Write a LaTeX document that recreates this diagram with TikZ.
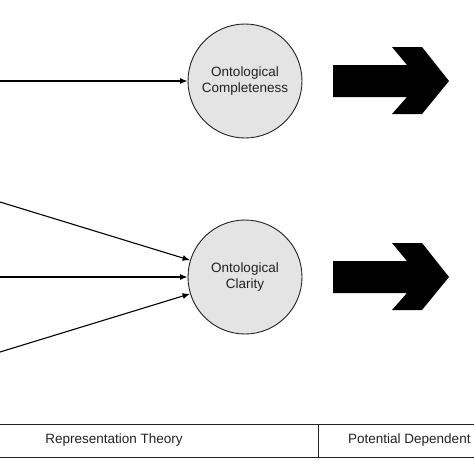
\documentclass[tikz,border=0pt]{standalone}
\usepackage{fontspec}
\setmainfont{Liberation Sans}
\usetikzlibrary{arrows.meta}
\definecolor{circfill}{HTML}{E4E4E4}
\definecolor{inkgray}{HTML}{222222}
\tikzset{
  concept/.style={circle, draw=inkgray, line width=0.9pt, fill=circfill, minimum size=114pt, inner sep=0pt, align=center, font=\fontsize{13.5}{16}\selectfont, text=inkgray},
  link/.style={draw=black, line width=1.1pt, -{Latex[length=7.5pt,width=6pt]}},
  blockarrow/.style={fill=black, draw=none},
  rule/.style={draw=inkgray, line width=1pt},
  celltext/.style={font=\fontsize{13.5}{16}\selectfont, text=inkgray, inner sep=0pt}
}
\begin{document}
\begin{tikzpicture}[x=1pt,y=-1pt]
\useasboundingbox (0,0) rectangle (474,474);
% circles
\node[concept] (comp) at (245,81) {Ontological\\Completeness};
\node[concept] (clar) at (245,277) {Ontological\\Clarity};
% free ends
\coordinate (s1) at (0,81);
\coordinate (s2) at (0,202);
\coordinate (s3) at (0,277);
\coordinate (s4) at (0,352);
\draw[link] (s1) -- (comp);
\draw[link] (s2) -- (clar);
\draw[link] (s3) -- (clar);
\draw[link] (s4) -- (clar);
% block arrows
\foreach \dy in {0,196}{
  \fill[blockarrow] (333,65+\dy) -- (407,65+\dy) -- (392,47+\dy) -- (422,47+\dy) -- (449,81+\dy) -- (422,114+\dy) -- (392,114+\dy) -- (407,97+\dy) -- (333,97+\dy) -- cycle;
}
% table
\coordinate (tl) at (0,424);
\coordinate (tr) at (474,424);
\coordinate (bl) at (0,457);
\coordinate (br) at (474,457);
\coordinate (dt) at (318,424);
\coordinate (db) at (318,457);
\draw[rule] (tl) -- (tr);
\draw[rule] (bl) -- (br);
\draw[rule] (dt) -- (db);
\node[celltext] (rt) at (114,440.5) {Representation Theory};
\node[celltext, anchor=west] (pd) at (348,440.5) {Potential Dependent};
\end{tikzpicture}
\end{document}
